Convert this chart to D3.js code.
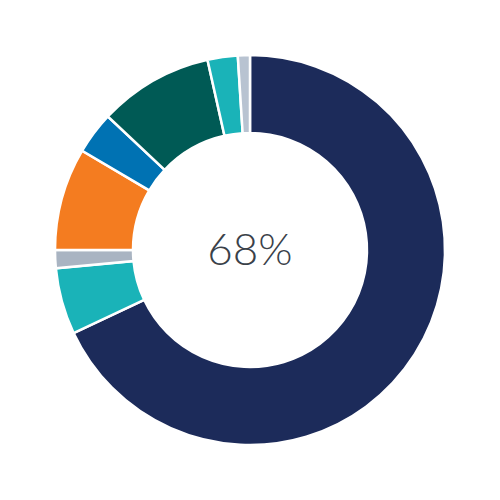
<!DOCTYPE html>
<meta charset="utf-8">
<body style="margin:0;background:#fff">
<script src="https://d3js.org/d3.v7.min.js"></script>
<script>
var labels = ["A", "B", "C", "D", "E", "F", "G", "H"];
var values = [68, 5.5, 1.5, 8.5, 3.5, 9.5, 2.5, 1.0];
var colors = ["#1c2b5a", "#1ab3b8", "#a9b4c2", "#f47c20", "#0072b3", "#005a55", "#1ab3b8", "#b8c3d1"];
var centerLabel = "68%";

var width = 500, height = 500;
var svg = d3.select("body").append("svg")
  .attr("width", width)
  .attr("height", height);

var pie = d3.pie().sort(null).value(function(d){ return d; });
var arc = d3.arc().innerRadius(117).outerRadius(195);

var g = svg.append("g")
  .attr("transform", "translate(" + [width/2, height/2] + ")");

g.selectAll("path")
  .data(pie(values))
  .enter()
  .append("path")
  .attr("d", arc)
  .attr("fill", function(d, i){ return colors[i]; })
  .attr("stroke", "#fff")
  .attr("stroke-width", 2.5);

g.append("text")
  .attr("text-anchor", "middle")
  .attr("dy", "0.35em")
  .attr("font-family", "Lato")
  .attr("font-weight", 300)
  .attr("font-size", 44)
  .attr("fill", "#3a4149")
  .text(centerLabel);
</script>
</body>
